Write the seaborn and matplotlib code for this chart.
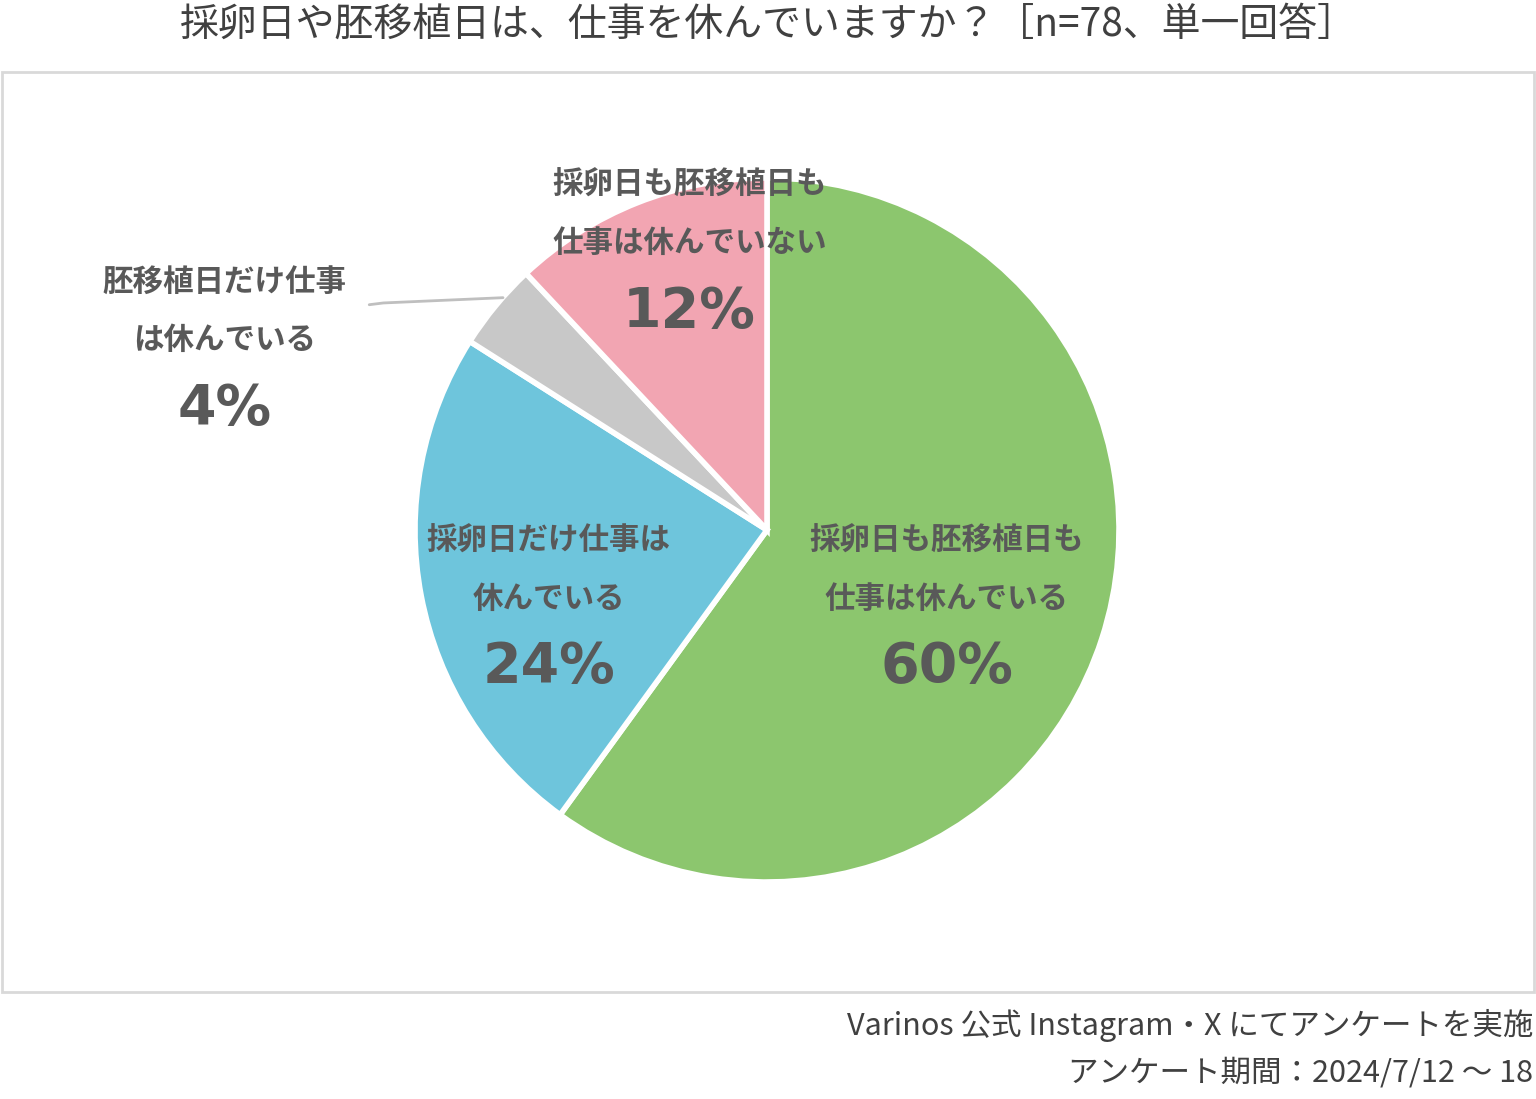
import matplotlib
matplotlib.use("Agg")
import matplotlib.pyplot as plt
import seaborn as sns
from matplotlib.patches import Rectangle

sns.set_theme(style="white")
plt.rcParams['font.family'] = ['Noto Sans CJK JP', 'DejaVu Sans']

categories = ["採卵日も胚移植日も\n仕事は休んでいる", "採卵日だけ仕事は\n休んでいる",
              "胚移植日だけ仕事\nは休んでいる", "採卵日も胚移植日も\n仕事は休んでいない"]
values = [60, 24, 4, 12]
colors = sns.color_palette(["#8CC66E", "#6EC5DC", "#C8C8C8", "#F2A5B2"])
label_pos = [(0.51, -0.03), (-0.62, -0.03), (-1.54, 0.705), (-0.22, 0.98)]

fig = plt.figure(figsize=(15.36, 10.99), dpi=100)
fig.patches.append(Rectangle((2/1536, 1-992/1099), 1532/1536, 920/1099, transform=fig.transFigure,
                             fill=False, edgecolor="#D9D9D9", lw=2))
fig.text(0.5, 1-25/1099, "採卵日や胚移植日は、仕事を休んでいますか？［n=78、単一回答］",
         ha="center", va="center", fontsize=28, color="#404040")
fig.text(0.998, 1-1025/1099, "Varinos 公式 Instagram・X にてアンケートを実施",
         ha="right", va="center", fontsize=22, color="#404040")
fig.text(0.998, 1-1073/1099, "アンケート期間：2024/7/12 ～ 18",
         ha="right", va="center", fontsize=22, color="#404040")

ax = fig.add_axes([(767-352)/1536, (1099-530-352)/1099, 704/1536, 704/1099])
ax.pie(values, colors=colors, startangle=90, counterclock=False,
       wedgeprops=dict(edgecolor="white", linewidth=4))
ax.set_xlim(-1, 1); ax.set_ylim(-1, 1); ax.set_aspect("equal"); ax.axis("off")

for cat, v, (x, y) in zip(categories, values, label_pos):
    l1, l2 = cat.split("\n")
    ax.text(x, y, l1, ha="center", va="center", fontsize=22, fontweight="bold", color="#595959", clip_on=False)
    ax.text(x, y-0.165, l2, ha="center", va="center", fontsize=22, fontweight="bold", color="#595959", clip_on=False)
    ax.text(x, y-0.36, f"{v}%", ha="center", va="center", fontsize=40, fontweight="bold", color="#595959",
            family=["DejaVu Sans"], clip_on=False)

ax.plot([-1.13, -1.09, -0.75], [0.64, 0.645, 0.66], color="#BFBFBF", lw=2, clip_on=False)

fig.savefig("out.png", dpi=100)
